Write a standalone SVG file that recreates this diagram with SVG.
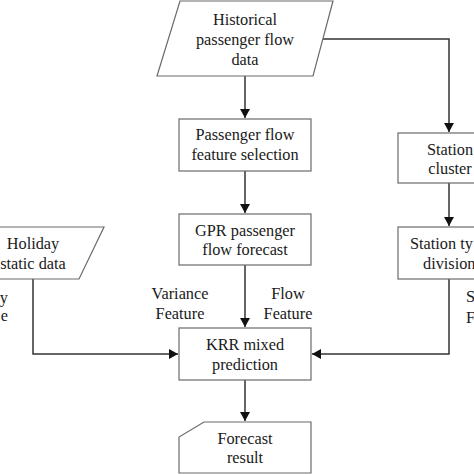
<svg xmlns="http://www.w3.org/2000/svg" width="474" height="474" viewBox="0 0 474 474">
<defs>
<marker id="ah" markerWidth="10" markerHeight="10" refX="9" refY="5" orient="auto" markerUnits="userSpaceOnUse">
<path d="M0,0 L9,5 L0,10 Z" fill="#111"/>
</marker>
<style>
.box{fill:#fff;stroke:#6a6a6a;stroke-width:1.2}
.t{font-family:"Liberation Serif","Times New Roman",serif;font-size:16.3px;fill:#1a1a1a;text-anchor:middle}
.ts{font-family:"Liberation Serif","Times New Roman",serif;font-size:16.3px;fill:#1a1a1a;text-anchor:start}
.te{font-family:"Liberation Serif","Times New Roman",serif;font-size:16.3px;fill:#1a1a1a;text-anchor:end}
.c{fill:none;stroke:#333;stroke-width:1.5}
</style>
</defs>
<rect width="474" height="474" fill="#fff"/>
<g id="connectors">
<path class="c" d="M245,76 V118" marker-end="url(#ah)"/>
<path class="c" d="M245,171 V213" marker-end="url(#ah)"/>
<path class="c" d="M245,265 V327" marker-end="url(#ah)"/>
<path class="c" d="M245,380 V421" marker-end="url(#ah)"/>
<path class="c" d="M323,39 H449 V132" marker-end="url(#ah)"/>
<path class="c" d="M449,183 V226" marker-end="url(#ah)"/>
<path class="c" d="M449,279 V354 H312" marker-end="url(#ah)"/>
<path class="c" d="M33,279 V354 H178" marker-end="url(#ah)"/>
</g>
<g id="historical">
<polygon class="box" points="180,1 333,1 313,76 157,76"/>
<text class="t" x="245" y="25">Historical</text>
<text class="t" x="245" y="45">passenger flow</text>
<text class="t" x="245" y="65">data</text>
</g>
<g id="feature-selection">
<rect class="box" x="179" y="119" width="132" height="52"/>
<text class="t" x="245" y="140">Passenger flow</text>
<text class="t" x="245" y="160">feature selection</text>
</g>
<g id="gpr">
<rect class="box" x="179" y="214" width="132" height="51"/>
<text class="t" x="245" y="236">GPR passenger</text>
<text class="t" x="245" y="255">flow forecast</text>
</g>
<g id="krr">
<rect class="box" x="179" y="328" width="132" height="52"/>
<text class="t" x="245" y="350">KRR mixed</text>
<text class="t" x="245" y="370">prediction</text>
</g>
<g id="forecast">
<polygon class="box" points="204,422 311,422 311,473 179,473 179,437"/>
<text class="t" x="245" y="444">Forecast</text>
<text class="t" x="245" y="463">result</text>
</g>
<g id="station-cluster">
<rect class="box" x="398" y="133" width="110" height="50"/>
<text class="t" x="450" y="155">Station</text>
<text class="t" x="450" y="174">cluster</text>
</g>
<g id="station-type">
<rect class="box" x="398" y="227" width="110" height="52"/>
<text class="ts" x="410" y="249">Station ty</text>
<text class="ts" x="423" y="269">division</text>
</g>
<g id="holiday">
<polygon class="box" points="-40,227 104,227 79,279 -40,279"/>
<text class="t" x="33" y="249">Holiday</text>
<text class="t" x="33" y="269">static data</text>
</g>
<g id="labels">
<text class="t" x="180" y="299">Variance</text>
<text class="t" x="180" y="319">Feature</text>
<text class="t" x="288" y="299">Flow</text>
<text class="t" x="288" y="319">Feature</text>
<text class="te" x="8" y="303">y</text>
<text class="te" x="8" y="321">e</text>
<text class="ts" x="466" y="302">S</text>
<text class="ts" x="466" y="323">F</text>
</g>
</svg>
